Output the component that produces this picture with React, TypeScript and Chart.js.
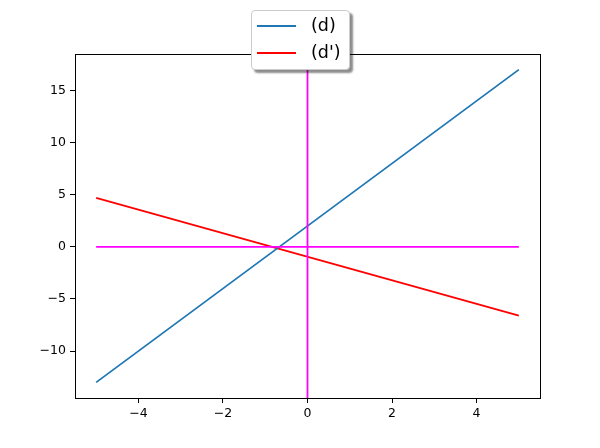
import { useEffect, useRef } from "react"
import { Chart, registerables, type ChartConfiguration } from "chart.js"

Chart.register(...registerables)

// endpoints of the straight lines
const X_ENDS = [-5, 5]
const D_Y = [-13, 17]
const D_PRIME_Y = [4.7, -6.6]
const H_AXIS_Y = [0, 0]
const V_AXIS_X = [0, 0]
const V_AXIS_Y = [-14.5, 18.5]

const X_TICKS = [-4, -2, 0, 2, 4]
const Y_TICKS = [-10, -5, 0, 5, 10, 15]
const X_RANGE = [-5.5, 5.5]
const Y_RANGE = [-14.5, 18.5]

const LEGEND = [
  { label: "(d)", color: "#1f77b4" },
  { label: "(d')", color: "#ff0000" },
]

const FONT = "'DejaVu Sans', sans-serif"

const fmt = (v: number) => (v < 0 ? "\u2212" + Math.abs(v) : String(v))

const framePlugin = {
  id: "frame",
  afterDraw(chart: Chart) {
    const { ctx, chartArea: a } = chart
    ctx.save()
    ctx.strokeStyle = "#000"
    ctx.lineWidth = 1
    ctx.strokeRect(Math.round(a.left) + 0.5, Math.round(a.top) + 0.5, Math.round(a.right - a.left), Math.round(a.bottom - a.top))
    ctx.restore()
  },
}

export default function App() {
  const canvasRef = useRef<HTMLCanvasElement>(null)

  useEffect(() => {
    if (!canvasRef.current) return
    const pts = (xs: number[], ys: number[]) => xs.map((x, i) => ({ x, y: ys[i] }))
    const line = (data: { x: number; y: number }[], color: string) => ({
      data,
      borderColor: color,
      backgroundColor: color,
      borderWidth: 1.8,
      pointRadius: 0,
      fill: false,
      tension: 0,
    })

    const config: ChartConfiguration<"line"> = {
      type: "line",
      data: {
        datasets: [
          line(pts(X_ENDS, H_AXIS_Y), "#ff00ff"),
          line(pts(V_AXIS_X, V_AXIS_Y), "#ff00ff"),
          line(pts(X_ENDS, D_Y), LEGEND[0].color),
          line(pts(X_ENDS, D_PRIME_Y), LEGEND[1].color),
        ],
      },
      options: {
        animation: false,
        responsive: false,
        layout: { padding: { top: 54, right: 60, left: 0, bottom: 0 } },
        plugins: { legend: { display: false }, tooltip: { enabled: false } },
        scales: {
          x: {
            type: "linear",
            min: X_RANGE[0],
            max: X_RANGE[1],
            afterBuildTicks: s => { s.ticks = X_TICKS.map(value => ({ value })) },
            afterFit: s => { s.height = 50 },
            grid: { drawOnChartArea: false, drawTicks: true, tickLength: 5, color: "#000", tickColor: "#000" },
            border: { display: false },
            ticks: { padding: 3, color: "#000", font: { family: FONT, size: 12.5 }, callback: v => fmt(Number(v)), maxRotation: 0 },
          },
          y: {
            type: "linear",
            min: Y_RANGE[0],
            max: Y_RANGE[1],
            afterBuildTicks: s => { s.ticks = Y_TICKS.map(value => ({ value })) },
            afterFit: s => { s.width = 75 },
            grid: { drawOnChartArea: false, drawTicks: true, tickLength: 5, color: "#000", tickColor: "#000" },
            border: { display: false },
            ticks: { padding: 4, color: "#000", font: { family: FONT, size: 12.5 }, callback: v => fmt(Number(v)) },
          },
        },
      },
      plugins: [framePlugin],
    }

    const chart = new Chart(canvasRef.current, config)
    return () => chart.destroy()
  }, [])

  return (
    <div style={{ position: "relative", width: 600, height: 448, background: "#fff", fontFamily: FONT }}>
      <style>{`body{margin:0}`}</style>
      <canvas ref={canvasRef} width={600} height={448} style={{ display: "block" }} />
      <div
        style={{
          position: "absolute", left: 251, top: 10, width: 99, height: 60, boxSizing: "border-box",
          background: "#fff", border: "1px solid #cccccc", borderRadius: 4,
          boxShadow: "3px 3px 2px rgba(0,0,0,0.45)",
        }}
      >
        {LEGEND.map((item, i) => (
          <div key={item.label} style={{ position: "absolute", left: 0, top: 1 + i * 27, height: 27, display: "flex", alignItems: "center" }}>
            <div style={{ marginLeft: 5, width: 39, height: 2, background: item.color }} />
            <span style={{ marginLeft: 15, fontSize: 17.5, color: "#000", lineHeight: "27px" }}>{item.label}</span>
          </div>
        ))}
      </div>
    </div>
  )
}
